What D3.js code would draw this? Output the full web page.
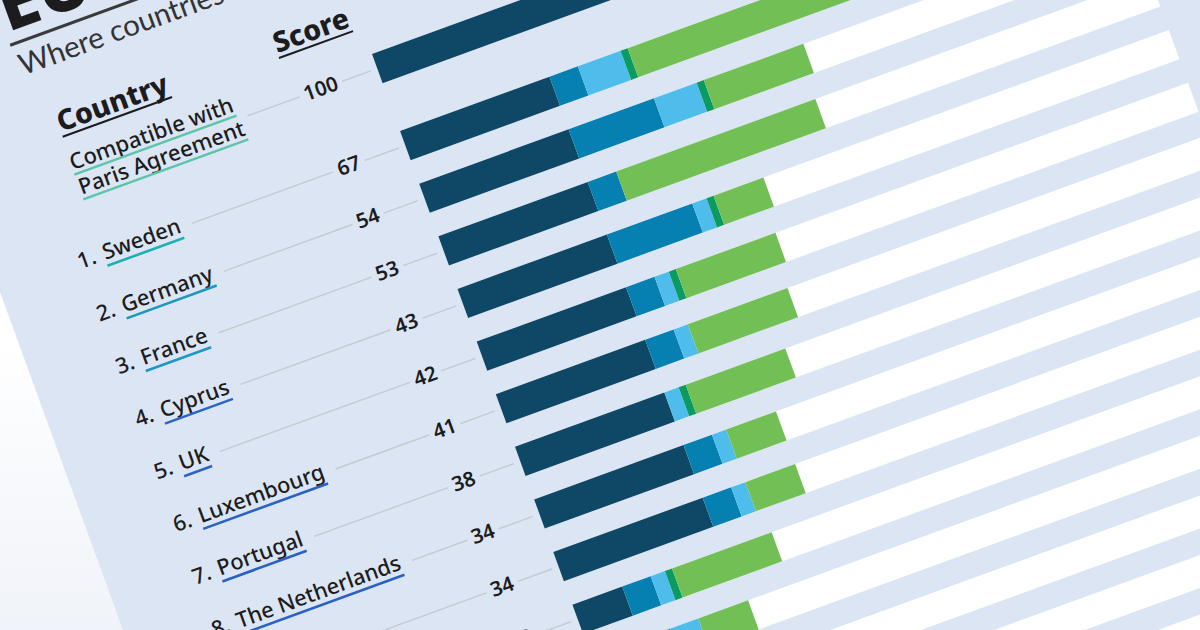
<!DOCTYPE html>
<html><head><meta charset="utf-8">
<script src="https://cdn.jsdelivr.net/npm/d3@7"></script>
<style>
html,body{margin:0;padding:0;width:1200px;height:630px;overflow:hidden}
body{background:linear-gradient(180deg,#ffffff 0,#ffffff 340px,#f0f3f9 630px)}
svg{display:block}
text{font-family:"Noto Sans",sans-serif;fill:#1c1c1e}
</style></head><body><svg id="c" width="1200" height="630"></svg>
<script>
const titleText = "EU Climate Leader Board";
const subtitleText = "Where countries stand";
const names = ["Sweden","Germany","France","Cyprus","UK","Luxembourg","Portugal","The Netherlands"];
const underlineColors = ["#1fb0b2","#1f96bc","#1f96c4","#2a66c8","#2a66c8","#2a62c4","#2a62c4","#2a62c4"];
const rows = [0,1,2,3,4,5,6,7,8,9,10,11,12,13,14,15];
const scores = [100,67,54,53,43,42,41,38,34,34,28,22];
const darkVals  = [35,21,21,21,21,21,21,21,21,21,7,7];
const midVals   = [15,4,12,4,12,4,4,0,4,4,4,4];
const lightVals = [15,6,6,0,2,2,2,2,2,2,2,4];
const deepVals  = [5,1,1,0,1,1,0,1,0,0,1,0];
const greenVals = [30,35,14,28,7,14,14,14,7,7,14,7];
const keys = ["dark","mid","light","deep","green"];
const colors = ["#0f4766","#0680b0","#4fbdec","#0b9b62","#72bf55"];

const table = scores.map((s,i)=>({row:i,dark:darkVals[i],mid:midVals[i],light:lightVals[i],deep:deepVals[i],green:greenVals[i]}));
const x = d3.scaleLinear().domain([0,100]).range([0,757]);
const yRank = d3.scaleLinear().domain([1,2]).range([82,138]);
const y = r => r===0 ? 0 : yRank(r);
const bandH = 31;
const color = d3.scaleOrdinal().domain(keys).range(colors);
const svg = d3.select("#c");

const g = svg.append("g").attr("transform","translate(372,54) rotate(-20)");
g.append("rect").attr("x",-431).attr("y",-500).attr("width",2200).attr("height",1800).attr("fill","#dce5f3");

g.selectAll("rect.track").data(rows).join("rect").attr("class","track")
  .attr("x",x(0)).attr("y",y).attr("width",x(100)).attr("height",bandH).attr("fill","#fff");

const stack = d3.stack().keys(keys)(table);
g.selectAll("g.seg").data(stack).join("g").attr("class","seg").attr("fill",d=>color(d.key))
  .selectAll("rect").data(d=>d).join("rect")
  .attr("x",d=>x(d[0])).attr("y",d=>y(d.data.row)).attr("width",d=>x(d[1])-x(d[0])).attr("height",bandH);

const scoreX = -60;
const lineColor = "#c6cad0";
const nameX = -321;
const scoreLabels = g.selectAll("text.score").data(scores).join("text").attr("class","score")
  .attr("x",scoreX).attr("y",(d,i)=>y(i)+bandH/2+6.5).attr("text-anchor","middle")
  .attr("font-size",20.5).attr("font-weight",600).text(d=>d);

const nameLabels = g.selectAll("text.name").data(names).join("text").attr("class","name")
  .attr("x",nameX).attr("y",(d,i)=>y(i+1)+bandH/2+5).attr("font-size",21.8).attr("font-weight",500).text(d=>d);
const nameW = [];
nameLabels.each(function(){nameW.push(this.getComputedTextLength())});
g.selectAll("line.under").data(names).join("line").attr("class","under")
  .attr("x1",nameX).attr("x2",(d,i)=>nameX+nameW[i])
  .attr("y1",(d,i)=>y(i+1)+bandH/2+11).attr("y2",(d,i)=>y(i+1)+bandH/2+11)
  .attr("stroke",(d,i)=>underlineColors[i]).attr("stroke-width",2.6);
g.selectAll("text.rank").data(names).join("text").attr("class","rank")
  .attr("x",nameX-8).attr("y",(d,i)=>y(i+1)+bandH/2+5).attr("text-anchor","end")
  .attr("font-size",21.8).attr("font-weight",500).text((d,i)=>(i+1)+".");

const scoreW = [];
scoreLabels.each(function(){scoreW.push(this.getComputedTextLength())});
const leftEnds = scores.map((s,i)=>scoreX-scoreW[i]/2-5);
const rightStarts = scores.map((s,i)=>scoreX+scoreW[i]/2+5);
const leftStarts = scores.map((s,i)=> i===0 ? -138 : (i<=names.length ? nameX+nameW[i-1]+12 : -200));
const leaders = g.append("g").attr("stroke",lineColor).attr("stroke-width",1.4);
leaders.selectAll("line.l").data(scores).join("line").attr("class","l")
  .attr("x1",(d,i)=>leftStarts[i]).attr("x2",(d,i)=>leftEnds[i])
  .attr("y1",(d,i)=>y(i)+bandH/2).attr("y2",(d,i)=>y(i)+bandH/2);
leaders.selectAll("line.r").data(scores).join("line").attr("class","r")
  .attr("x1",(d,i)=>rightStarts[i]).attr("x2",-7)
  .attr("y1",(d,i)=>y(i)+bandH/2).attr("y2",(d,i)=>y(i)+bandH/2);

function header(txt,xp,anchor){
  const t = g.append("text").attr("x",xp).attr("y",-33).attr("font-size",28.5).attr("font-weight",800).attr("text-anchor",anchor).text(txt);
  const w = t.node().getComputedTextLength();
  const x0 = anchor==="end"? xp-w : xp;
  g.append("line").attr("x1",x0).attr("x2",x0+w).attr("y1",-28).attr("y2",-28).attr("stroke","#1c1c1e").attr("stroke-width",2);
}
header("Country",-319,"start");
header("Score",-10,"end");

[["Compatible with",7,11.5],["Paris Agreement",33,38]].forEach(([txt,by,uy])=>{
  const t = g.append("text").attr("x",nameX).attr("y",by).attr("font-size",22).attr("font-weight",500).text(txt);
  g.append("line").attr("x1",nameX).attr("x2",nameX+t.node().getComputedTextLength()).attr("y1",uy).attr("y2",uy).attr("stroke","#5cc4a8").attr("stroke-width",2.4);
});

g.append("text").attr("x",-335).attr("y",-145).attr("font-size",72).attr("font-weight",800).text(titleText);
g.append("line").attr("x1",-337).attr("x2",400).attr("y1",-132).attr("y2",-132).attr("stroke","#3a3a3c").attr("stroke-width",3);
g.append("text").attr("x",-335).attr("y",-99).attr("font-size",29.5).attr("font-weight",400).attr("style","font-family:Lato,sans-serif;fill:#333").text(subtitleText);
</script></body></html>
